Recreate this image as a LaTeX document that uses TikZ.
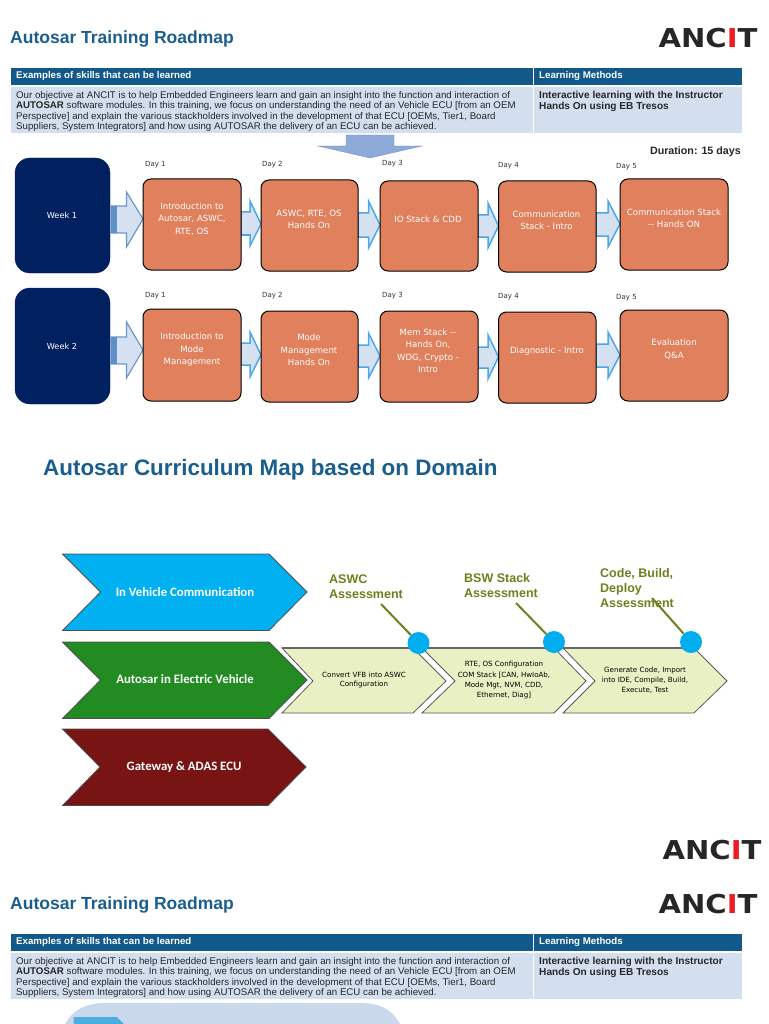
\documentclass[tikz,border=0pt]{standalone}
\usepackage{fontspec}
\setmainfont{Liberation Sans}
\newfontfamily\dayfont{DejaVu Sans}
\newfontfamily\chevfont{Carlito}
\newfontfamily\logofont[FakeStretch=1.12]{DejaVu Sans}
\definecolor{headblue}{HTML}{11598A}
\definecolor{titleblue}{HTML}{1A5E8E}
\definecolor{bodyblue}{HTML}{D3DFEF}
\definecolor{weekblue}{HTML}{002060}
\definecolor{dayorange}{HTML}{E0805C}
\definecolor{stepfill}{HTML}{D5E1F1}
\definecolor{stepline}{HTML}{4BA6EA}
\definecolor{firstline}{HTML}{6D97C9}
\definecolor{firststrip}{HTML}{5F8FC6}
\definecolor{downfill}{HTML}{8EAAD8}
\definecolor{downline}{HTML}{7D9ACB}
\definecolor{olive}{HTML}{6E7F1E}
\definecolor{dotblue}{HTML}{00AEEF}
\definecolor{palegreen}{HTML}{E8F0C4}
\definecolor{ancitred}{HTML}{ED1C24}
\definecolor{chevblue}{HTML}{00B0F0}
\definecolor{chevgreen}{HTML}{228B22}
\definecolor{chevred}{HTML}{781414}
\definecolor{panelblue}{HTML}{C9D8EA}
\definecolor{tabblue}{HTML}{4AAEE0}

\begin{document}
\begin{tikzpicture}[x = 1pt, y = -1pt,
every node/.style = {inner sep = 0pt},
title/.style = {anchor = west, font = \fontsize{17.5}{20}\selectfont\bfseries, text = titleblue},
logo/.style = {anchor = center, font = \fontsize{26}{26}\selectfont\logofont\bfseries, text = black!85},
headtext/.style = {anchor = west, font = \fontsize{9.7}{11}\selectfont\bfseries, text = white},
bodytext/.style = {anchor = north west, align = left, font = \fontsize{9.7}{10.4}\selectfont, text = black!85},
boldtext/.style = {anchor = north west, align = left, font = \fontsize{10.1}{10.9}\selectfont\bfseries, text = black!85},
weekbox/.style = {fill = weekblue, draw = weekblue, rounded corners = 15pt},
daybox/.style = {fill = dayorange, draw = black, line width = 1pt, rounded corners = 8pt},
weektext/.style = {font = \fontsize{8.2}{10}\selectfont\dayfont, text = white},
daytext/.style = {align = center, font = \fontsize{8.6}{12.5}\selectfont\dayfont, text = white},
daylabel/.style = {anchor = west, font = \fontsize{7}{8}\selectfont\dayfont, text = black!80},
firststep/.style = {fill = stepfill, draw = firstline, line width = 1.2pt},
nextstep/.style = {fill = stepfill, draw = stepline, line width = 1.5pt},
bigchev/.style = {draw = black!70, line width = 0.8pt},
bigtext/.style = {font = \fontsize{12.8}{14}\selectfont\chevfont\bfseries, text = white},
smallchev/.style = {fill = palegreen, draw = black!65, line width = 0.8pt},
smalltext/.style = {align = center, font = \fontsize{7.1}{9.8}\selectfont\dayfont, text = black},
assess/.style = {anchor = north west, align = left, font = \fontsize{12.5}{15}\selectfont\bfseries, text = olive},
dot/.style = {circle, fill = dotblue, minimum size = 22pt},
leader/.style = {draw = olive, line width = 2pt}]
\useasboundingbox (0, 0) rectangle (768, 1024);

% first page head
\node[title] (title1) at (10, 39.5) {Autosar Training Roadmap};
\node[logo] (logo1) at (708, 38.5) {ANC\textcolor{ancitred}{I}T};
\fill[headblue] (11, 68) rectangle (533, 85.5);
\fill[headblue] (534, 68) rectangle (742, 85.5);
\fill[bodyblue] (11, 87) rectangle (533, 133.5);
\fill[bodyblue] (534, 87) rectangle (742, 133.5);
\node[headtext] (skills1) at (16, 76) {Examples of skills that can be learned};
\node[headtext] (methods1) at (539, 76) {Learning Methods};
\node[bodytext] (objective1) at (16, 91) {Our objective at ANCIT is to help Embedded Engineers learn and gain an insight into the function and interaction of\\
\textbf{AUTOSAR} software modules. In this training, we focus on understanding the need of an Vehicle ECU [from an OEM\\
Perspective] and explain the various stackholders involved in the development of that ECU [OEMs, Tier1, Board\\
Suppliers, System Integrators] and how using AUTOSAR the delivery of an ECU can be achieved.};
\node[boldtext] (learning1) at (539, 91) {Interactive learning with the Instructor\\
Hands On using EB Tresos};

\filldraw[fill = downfill, draw = downline] (346, 135) -- (394, 135) -- (394, 146) -- (422, 146)
			   -- (370, 158) -- (318, 146) -- (346, 146) -- cycle;
\node[anchor = east, font = \fontsize{10.7}{12}\selectfont\bfseries, text = black!85] (duration) at (741, 151.5) {Duration: 15 days};

% week 1
\filldraw[weekbox] (15, 158) rectangle (110, 273);
\node[weektext] (week1) at (62, 215.5) {Week 1};
\filldraw[firststep] (111, 206) -- (126.5, 206) -- (126.5, 192) -- (143, 219) -- (126.5, 247) -- (126.5, 233) -- (111, 233) -- cycle;
\fill[firststrip] (111, 206) rectangle (117, 233);
\filldraw[nextstep] (241, 212) -- (250, 212) -- (250, 201) -- (261, 224) -- (250, 246) -- (250, 235) -- (241, 235) -- cycle;
\filldraw[nextstep] (358, 213) -- (368.5, 213) -- (368.5, 201) -- (380, 225) -- (368.5, 248) -- (368.5, 237) -- (358, 237) -- cycle;
\filldraw[nextstep] (478, 215) -- (488, 215) -- (488, 203) -- (498.5, 226) -- (488, 248) -- (488, 237) -- (478, 237) -- cycle;
\filldraw[nextstep] (596, 213) -- (608, 213) -- (608, 201) -- (620, 224) -- (608, 247) -- (608, 236) -- (596, 236) -- cycle;
\filldraw[daybox] (143, 179) rectangle (241, 270);
\filldraw[daybox] (261, 180) rectangle (358, 271);
\filldraw[daybox] (380, 181) rectangle (478, 271);
\filldraw[daybox] (498.5, 181) rectangle (596, 272);
\filldraw[daybox] (620, 179) rectangle (728, 270);
\node[daylabel] (day11) at (145, 164.5) {Day 1};
\node[daylabel] (day12) at (262, 164.5) {Day 2};
\node[daylabel] (day13) at (382, 163.5) {Day 3};
\node[daylabel] (day14) at (498, 165.5) {Day 4};
\node[daylabel] (day15) at (616, 166.5) {Day 5};
\node[daytext] (topic11) at (192, 219) {Introduction to\\Autosar, ASWC,\\RTE, OS};
\node[daytext] (topic12) at (309, 219.5) {ASWC, RTE, OS\\Hands On};
\node[daytext] (topic13) at (428, 219.5) {IO Stack \& CDD};
\node[daytext] (topic14) at (546.5, 220.5) {Communication\\Stack - Intro};
\node[daytext] (topic15) at (674, 218.5) {Communication Stack\\-- Hands ON};

% week 2
\filldraw[weekbox] (15, 288) rectangle (110, 404);
\node[weektext] (week2) at (62, 346.5) {Week 2};
\filldraw[firststep] (111, 337) -- (126.5, 337) -- (126.5, 322) -- (143, 350) -- (126.5, 378) -- (126.5, 364) -- (111, 364) -- cycle;
\fill[firststrip] (111, 337) rectangle (117, 364);
\filldraw[nextstep] (241, 343) -- (250, 343) -- (250, 332) -- (261, 355) -- (250, 377) -- (250, 365) -- (241, 365) -- cycle;
\filldraw[nextstep] (358, 345) -- (368.5, 345) -- (368.5, 333) -- (380, 356) -- (368.5, 378) -- (368.5, 367) -- (358, 367) -- cycle;
\filldraw[nextstep] (478, 347) -- (488, 347) -- (488, 335) -- (498.5, 357) -- (488, 379) -- (488, 368) -- (478, 368) -- cycle;
\filldraw[nextstep] (596, 344) -- (608, 344) -- (608, 332) -- (620, 355) -- (608, 378) -- (608, 367) -- (596, 367) -- cycle;
\filldraw[daybox] (143, 309) rectangle (241, 401);
\filldraw[daybox] (261, 311) rectangle (358, 402);
\filldraw[daybox] (380, 311) rectangle (478, 402);
\filldraw[daybox] (498.5, 312) rectangle (596, 403);
\filldraw[daybox] (620, 310) rectangle (728, 401);
\node[daylabel] (day21) at (145, 295.5) {Day 1};
\node[daylabel] (day22) at (262, 295.5) {Day 2};
\node[daylabel] (day23) at (382, 295.5) {Day 3};
\node[daylabel] (day24) at (498, 296.5) {Day 4};
\node[daylabel] (day25) at (616, 297.5) {Day 5};
\node[daytext] (topic21) at (192, 350) {Introduction to\\Mode\\Management};
\node[daytext] (topic22) at (309, 350) {Mode\\Management\\Hands On};
\node[daytext] (topic23) at (428, 351) {Mem Stack --\\Hands On,\\WDG, Crypto -\\Intro};
\node[daytext] (topic24) at (547, 351.5) {Diagnostic - Intro};
\node[daytext] (topic25) at (674, 349.5) {Evaluation\\Q\&A};

% curriculum map
\node[anchor = west, font = \fontsize{22.4}{26}\selectfont\bfseries, text = titleblue] (maptitle) at (43, 470) {Autosar Curriculum Map based on Domain};

\filldraw[bigchev, fill = chevblue] (62.5, 554) -- (269, 554) -- (307, 592) -- (269, 630.5) -- (62.5, 630.5) -- (100.5, 592) -- cycle;
\filldraw[bigchev, fill = chevgreen] (62.5, 642) -- (269, 642) -- (307, 680) -- (269, 718.5) -- (62.5, 718.5) -- (100.5, 680) -- cycle;
\filldraw[bigchev, fill = chevred] (62.5, 729) -- (268, 729) -- (306, 767) -- (268, 805.5) -- (62.5, 805.5) -- (100, 767) -- cycle;
\node[bigtext] (vehicle) at (185, 592) {In Vehicle Communication};
\node[bigtext] (electric) at (185, 679) {Autosar in Electric Vehicle};
\node[bigtext] (gateway) at (184, 767) {Gateway \& ADAS ECU};

\filldraw[smallchev] (282, 648) -- (413, 648) -- (446, 681) -- (413, 713) -- (282, 713) -- (313, 681) -- cycle;
\filldraw[smallchev] (422, 648) -- (554, 648) -- (586, 681) -- (554, 713) -- (422, 713) -- (455, 681) -- cycle;
\filldraw[smallchev] (563, 648) -- (694, 648) -- (727, 681) -- (694, 713) -- (563, 713) -- (595, 681) -- cycle;
\draw[black!60, line width = 1.3pt] (282, 648) -- (694, 648);
\node[smalltext] (aswctext) at (364, 680) {Convert VFB into ASWC\\Configuration};
\node[smalltext] (bswtext) at (504, 680) {RTE, OS Configuration\\[1.5pt]COM Stack [CAN, HwIoAb,\\Mode Mgt, NVM, CDD,\\Ethernet, Diag]};
\node[smalltext] (codetext) at (645, 680) {Generate Code, Import\\into IDE, Compile, Build,\\Execute, Test};

\node[assess] (aswclabel) at (329, 575) {ASWC\\Assessment};
\node[assess] (bswlabel) at (464, 573) {BSW Stack\\Assessment};
\node[assess] (codelabel) at (600, 568) {Code, Build,\\Deploy\\Assessment};
\coordinate (aswcfoot) at (381, 604);
\coordinate (bswfoot) at (516, 603);
\coordinate (codefoot) at (652, 598);
\node[dot] (aswcdot) at (418.5, 643) {};
\node[dot] (bswdot) at (554, 642) {};
\node[dot] (codedot) at (691, 642) {};
\draw[leader] (aswcfoot) -- (aswcdot);
\draw[leader] (bswfoot) -- (bswdot);
\draw[leader] (codefoot) -- (codedot);

% second page head
\node[logo] (logo2) at (712, 850) {ANC\textcolor{ancitred}{I}T};
\node[title] (title2) at (10, 905.5) {Autosar Training Roadmap};
\node[logo] (logo3) at (708, 904) {ANC\textcolor{ancitred}{I}T};
\fill[headblue] (11, 933.5) rectangle (533, 951);
\fill[headblue] (534, 933.5) rectangle (742, 951);
\fill[bodyblue] (11, 953) rectangle (533, 999);
\fill[bodyblue] (534, 953) rectangle (742, 999);
\node[headtext] (skills2) at (16, 942) {Examples of skills that can be learned};
\node[headtext] (methods2) at (539, 942) {Learning Methods};
\node[bodytext] (objective2) at (16, 957) {Our objective at ANCIT is to help Embedded Engineers learn and gain an insight into the function and interaction of\\
\textbf{AUTOSAR} software modules. In this training, we focus on understanding the need of an Vehicle ECU [from an OEM\\
Perspective] and explain the various stackholders involved in the development of that ECU [OEMs, Tier1, Board\\
Suppliers, System Integrators] and how using AUTOSAR the delivery of an ECU can be achieved.};
\node[boldtext] (learning2) at (539, 957) {Interactive learning with the Instructor\\
Hands On using EB Tresos};

\fill[panelblue] (65, 1024) .. controls (72, 1011) and (85, 1003) .. (105, 1003) -- (360, 1003)
				.. controls (382, 1003) and (393, 1011) .. (400, 1024) -- cycle;
\fill[tabblue] (73.5, 1024) -- (73.5, 1017) -- (117, 1017) -- (124, 1024) -- cycle;
\end{tikzpicture}
\end{document}
